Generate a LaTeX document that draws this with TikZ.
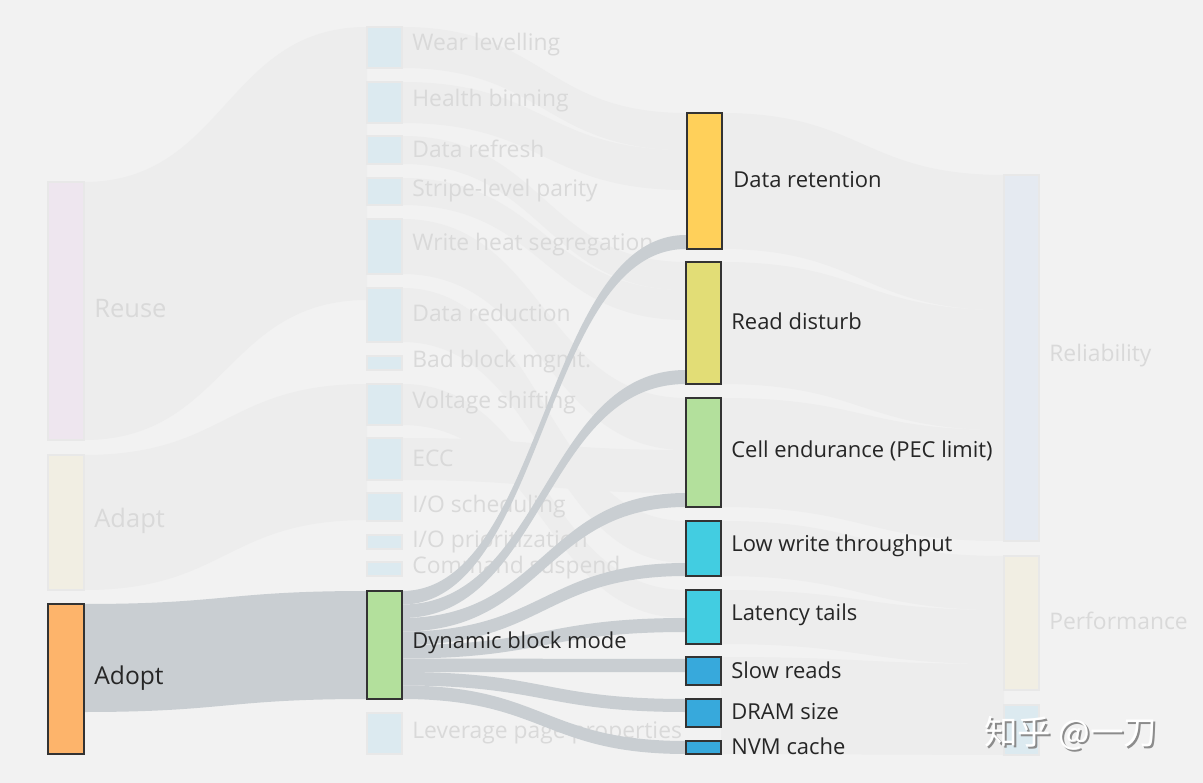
\documentclass[tikz,border=0pt]{standalone}
\usepackage{fontspec}
\setmainfont{Open Sans}
\newfontfamily\cjk{Noto Sans CJK SC}
\definecolor{bg}{HTML}{F2F2F2}
\definecolor{flow}{HTML}{C9CED2}
\definecolor{fflow}{HTML}{EDEDED}
\definecolor{cOr}{HTML}{FDB46B}
\definecolor{cGr}{HTML}{B3E09C}
\definecolor{cYe}{HTML}{FFD05A}
\definecolor{cOl}{HTML}{E2DD76}
\definecolor{cCy}{HTML}{42CDE1}
\definecolor{cBl}{HTML}{37A9DC}
\definecolor{fCy}{HTML}{DCEAF0}
\definecolor{fLav}{HTML}{EEE6EF}
\definecolor{fBe}{HTML}{F1EEE3}
\definecolor{fBlu}{HTML}{E5EAF1}
\begin{document}
\begin{tikzpicture}[x=0.02cm,y=-0.02cm,
  lbl/.style={anchor=west,font=\fontsize{12.5}{14}\selectfont,text=black!85,inner sep=0},
  flbl/.style={anchor=west,font=\fontsize{13}{15}\selectfont,text=black!15,inner sep=0},
  fbox/.style={draw=black!9,line width=0.6pt},
  mbox/.style={draw=black!80,line width=0.9pt}]
\newcommand\bx[7]{\node[#7,fill=#6,inner sep=0,minimum width={(#4-#2)*0.02cm},minimum height={(#5-#3)*0.02cm}] (#1) at ({(#2+#4)/2},{(#3+#5)/2}) {};}
\newcommand\band[7]{\fill[#7] (#1,#2) .. controls ({(#1+#4)/2},#2) and ({(#1+#4)/2},#5) .. (#4,#5) -- (#4,#6) .. controls ({(#1+#4)/2},#6) and ({(#1+#4)/2},#3) .. (#1,#3) -- cycle;}
\fill[bg] (0,0) rectangle (1203,783);
\useasboundingbox (0,0) rectangle (1203,783);
% faint background flows
\band{402}{27}{68}{686}{113}{150}{fflow}
\band{402}{82}{123}{686}{150}{190}{fflow}
\band{402}{136}{164}{686}{262}{290}{fflow}
\band{402}{178}{205}{686}{290}{320}{fflow}
\band{402}{219}{274}{686}{398}{450}{fflow}
\band{402}{288}{342}{686}{521}{563}{fflow}
\band{402}{384}{425}{686}{590}{618}{fflow}
\band{402}{438}{480}{686}{450}{493}{fflow}
\band{721}{113}{249}{1004}{175}{310}{fflow}
\band{721}{262}{384}{1004}{310}{430}{fflow}
\band{721}{398}{507}{1004}{430}{541}{fflow}
\band{721}{521}{576}{1004}{556}{610}{fflow}
\band{721}{590}{644}{1004}{610}{664}{fflow}
\band{721}{657}{754}{1004}{664}{755}{fflow}
\band{84}{182}{440}{367}{27}{300}{fflow}
\band{84}{455}{590}{367}{384}{520}{fflow}
% faint left nodes
\bx{reuse}{48}{182}{84}{440}{fLav}{fbox}
\bx{adapt}{48}{455}{84}{590}{fBe}{fbox}
\node[flbl,font=\fontsize{14.5}{17}\selectfont] at (94,309) {Reuse};
\node[flbl,font=\fontsize{14.5}{17}\selectfont] at (94,521) {Adapt};
% faint column 2
\bx{wl}{367}{27}{402}{68}{fCy}{fbox}
\bx{hb}{367}{82}{402}{123}{fCy}{fbox}
\bx{dr}{367}{136}{402}{164}{fCy}{fbox}
\bx{sp}{367}{178}{402}{205}{fCy}{fbox}
\bx{wh}{367}{219}{402}{274}{fCy}{fbox}
\bx{dred}{367}{288}{402}{342}{fCy}{fbox}
\bx{bb}{367}{356}{402}{370}{fCy}{fbox}
\bx{vs}{367}{384}{402}{425}{fCy}{fbox}
\bx{ecc}{367}{438}{402}{480}{fCy}{fbox}
\bx{ios}{367}{493}{402}{521}{fCy}{fbox}
\bx{iop}{367}{535}{402}{549}{fCy}{fbox}
\bx{cs}{367}{562}{402}{576}{fCy}{fbox}
\bx{lp}{367}{713}{402}{754}{fCy}{fbox}
\node[flbl] at (412,45) {Wear levelling};
\node[flbl] at (412,101) {Health binning};
\node[flbl] at (412,149) {Data refresh};
\node[flbl] at (412,191) {Stripe-level parity};
\node[flbl] at (412,245) {Write heat segregation};
\node[flbl] at (412,313) {Data reduction};
\node[flbl] at (412,362) {Bad block mgmt.};
\node[flbl] at (412,403) {Voltage shifting};
\node[flbl] at (412,458) {ECC};
\node[flbl] at (412,507) {I/O scheduling};
\node[flbl] at (412,542) {I/O prioritization};
\node[flbl] at (412,568) {Command suspend};
\node[flbl] at (412,733) {Leverage page properties};
% faint right
\bx{rel}{1004}{175}{1039}{541}{fBlu}{fbox}
\bx{perf}{1004}{556}{1039}{690}{fBe}{fbox}
\bx{hw}{1004}{705}{1039}{755}{fCy}{fbox}
\node[flbl] at (1049,356) {Reliability};
\node[flbl] at (1049,621) {Performance};
% highlighted flows
\band{84}{604}{712}{367}{591}{699}{flow}
\foreach \i/\ta/\tb in {0/235/249,1/370/384,2/493/507,3/563/576,4/618/632,5/659/672,6/699/712,7/741/754}{
  \band{402}{591+13.5*\i}{604.5+13.5*\i}{686}{\ta}{\tb}{flow}}
% highlighted nodes
\bx{adopt}{48}{604}{84}{754}{cOr}{mbox}
\bx{dyn}{367}{591}{402}{699}{cGr}{mbox}
\bx{dret}{687}{113}{722}{249}{cYe}{mbox}
\bx{rdist}{686}{262}{721}{384}{cOl}{mbox}
\bx{cell}{686}{398}{721}{507}{cGr}{mbox}
\bx{lwt}{686}{521}{721}{576}{cCy}{mbox}
\bx{lat}{686}{590}{721}{644}{cCy}{mbox}
\bx{slow}{686}{657}{721}{685}{cBl}{mbox}
\bx{dram}{686}{699}{721}{727}{cBl}{mbox}
\bx{nvm}{686}{741}{721}{754}{cBl}{mbox}
\node[lbl,font=\fontsize{14}{16}\selectfont] at (94,678) {Adopt};
\node[lbl] at (412,643) {Dynamic block mode};
\node[lbl] at (733,180) {Data retention};
\node[lbl] at (731,321) {Read disturb};
\node[lbl] at (731,451) {Cell endurance (PEC limit)};
\node[lbl] at (731,546) {Low write throughput};
\node[lbl] at (731,615) {Latency tails};
\node[lbl] at (731,670) {Slow reads};
\node[lbl] at (731,712) {DRAM size};
\node[lbl] at (731,746) {NVM cache};
% watermark
\node[anchor=west,inner sep=0,font=\cjk\fontsize{19}{21}\selectfont,text=black!45] at (986,735) {知乎 @一刀};
\node[anchor=west,inner sep=0,font=\cjk\fontsize{19}{21}\selectfont,text=white] at (984,733) {知乎 @一刀};
\end{tikzpicture}
\end{document}
